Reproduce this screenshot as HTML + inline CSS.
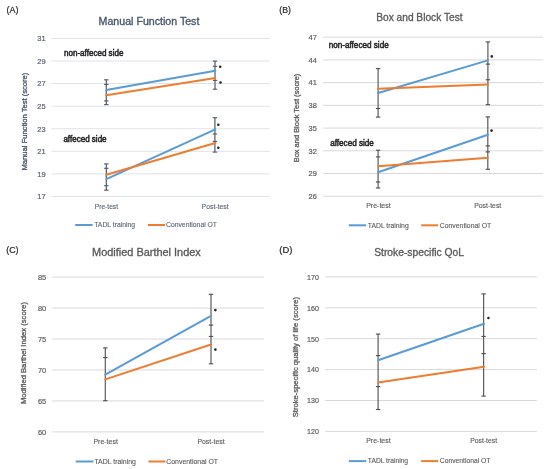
<!DOCTYPE html>
<html><head><meta charset="utf-8"><style>
html,body{margin:0;padding:0;background:#fff;width:550px;height:469px;overflow:hidden}
svg{display:block;font-family:"Liberation Sans", sans-serif;filter:blur(0.3px)}
</style></head><body>
<svg width="550" height="469" viewBox="0 0 550 469">
<rect width="550" height="469" fill="#fff"/>
<text x="6.4" y="13.2" font-size="9.6" fill="#262626" text-anchor="start" font-weight="normal" textLength="12" lengthAdjust="spacingAndGlyphs"  stroke="#262626" stroke-width="0.22">(A)</text>
<text x="98.6" y="24.6" font-size="10.0" fill="#44546a" text-anchor="start" font-weight="normal" textLength="100.8" lengthAdjust="spacingAndGlyphs"  stroke="#44546a" stroke-width="0.3">Manual Function Test</text>
<line x1="51.4" y1="38.4" x2="269.7" y2="38.4" stroke="#dfe3e9" stroke-width="1"/>
<text x="45.6" y="41.2" font-size="7.8" fill="#5a6475" text-anchor="end" font-weight="normal" textLength="8.3" lengthAdjust="spacingAndGlyphs"  stroke="#5a6475" stroke-width="0.2">31</text>
<line x1="51.4" y1="60.99" x2="269.7" y2="60.99" stroke="#dfe3e9" stroke-width="1"/>
<text x="45.6" y="63.79" font-size="7.8" fill="#5a6475" text-anchor="end" font-weight="normal" textLength="8.3" lengthAdjust="spacingAndGlyphs"  stroke="#5a6475" stroke-width="0.2">29</text>
<line x1="51.4" y1="83.57" x2="269.7" y2="83.57" stroke="#dfe3e9" stroke-width="1"/>
<text x="45.6" y="86.37" font-size="7.8" fill="#5a6475" text-anchor="end" font-weight="normal" textLength="8.3" lengthAdjust="spacingAndGlyphs"  stroke="#5a6475" stroke-width="0.2">27</text>
<line x1="51.4" y1="106.16" x2="269.7" y2="106.16" stroke="#dfe3e9" stroke-width="1"/>
<text x="45.6" y="108.96" font-size="7.8" fill="#5a6475" text-anchor="end" font-weight="normal" textLength="8.3" lengthAdjust="spacingAndGlyphs"  stroke="#5a6475" stroke-width="0.2">25</text>
<line x1="51.4" y1="128.74" x2="269.7" y2="128.74" stroke="#dfe3e9" stroke-width="1"/>
<text x="45.6" y="131.54" font-size="7.8" fill="#5a6475" text-anchor="end" font-weight="normal" textLength="8.3" lengthAdjust="spacingAndGlyphs"  stroke="#5a6475" stroke-width="0.2">23</text>
<line x1="51.4" y1="151.33" x2="269.7" y2="151.33" stroke="#dfe3e9" stroke-width="1"/>
<text x="45.6" y="154.13" font-size="7.8" fill="#5a6475" text-anchor="end" font-weight="normal" textLength="8.3" lengthAdjust="spacingAndGlyphs"  stroke="#5a6475" stroke-width="0.2">21</text>
<line x1="51.4" y1="173.91" x2="269.7" y2="173.91" stroke="#dfe3e9" stroke-width="1"/>
<text x="45.6" y="176.71" font-size="7.8" fill="#5a6475" text-anchor="end" font-weight="normal" textLength="8.3" lengthAdjust="spacingAndGlyphs"  stroke="#5a6475" stroke-width="0.2">19</text>
<line x1="51.4" y1="196.5" x2="269.7" y2="196.5" stroke="#dfe3e9" stroke-width="1"/>
<text x="45.6" y="199.3" font-size="7.8" fill="#5a6475" text-anchor="end" font-weight="normal" textLength="8.3" lengthAdjust="spacingAndGlyphs"  stroke="#5a6475" stroke-width="0.2">17</text>
<text transform="translate(27.1,121.6) rotate(-90)" x="0" y="0" font-size="7.6" fill="#44546a" stroke="#44546a" stroke-width="0.3" text-anchor="middle" textLength="97.9" lengthAdjust="spacingAndGlyphs">Manual Function Test (score)</text>
<text x="94.8" y="208.7" font-size="7.1" fill="#5a6475" text-anchor="start" font-weight="normal" textLength="23.2" lengthAdjust="spacingAndGlyphs"  stroke="#5a6475" stroke-width="0.12">Pre-test</text>
<text x="201.6" y="208.7" font-size="7.1" fill="#5a6475" text-anchor="start" font-weight="normal" textLength="27" lengthAdjust="spacingAndGlyphs"  stroke="#5a6475" stroke-width="0.12">Post-test</text>
<text x="64" y="55.7" font-size="8.4" fill="#262626" text-anchor="start" font-weight="normal" textLength="59.4" lengthAdjust="spacingAndGlyphs"  stroke="#262626" stroke-width="0.52">non-affeced side</text>
<text x="63.4" y="141.7" font-size="8.4" fill="#262626" text-anchor="start" font-weight="normal" textLength="43.2" lengthAdjust="spacingAndGlyphs"  stroke="#262626" stroke-width="0.52">affeced side</text>
<line x1="106.3" y1="79.8" x2="106.3" y2="104.6" stroke="#505a69" stroke-width="1.2"/>
<line x1="104.1" y1="79.8" x2="108.5" y2="79.8" stroke="#505a69" stroke-width="1.1"/>
<line x1="104.1" y1="84.4" x2="108.5" y2="84.4" stroke="#505a69" stroke-width="1.1"/>
<line x1="104.1" y1="100.9" x2="108.5" y2="100.9" stroke="#505a69" stroke-width="1.1"/>
<line x1="104.1" y1="104.6" x2="108.5" y2="104.6" stroke="#505a69" stroke-width="1.1"/>
<line x1="215.0" y1="61.1" x2="215.0" y2="89.2" stroke="#505a69" stroke-width="1.2"/>
<line x1="212.8" y1="61.1" x2="217.2" y2="61.1" stroke="#505a69" stroke-width="1.1"/>
<line x1="212.8" y1="66.3" x2="217.2" y2="66.3" stroke="#505a69" stroke-width="1.1"/>
<line x1="212.8" y1="80.4" x2="217.2" y2="80.4" stroke="#505a69" stroke-width="1.1"/>
<line x1="212.8" y1="89.2" x2="217.2" y2="89.2" stroke="#505a69" stroke-width="1.1"/>
<line x1="106.3" y1="163.9" x2="106.3" y2="190.2" stroke="#505a69" stroke-width="1.2"/>
<line x1="104.1" y1="163.9" x2="108.5" y2="163.9" stroke="#505a69" stroke-width="1.1"/>
<line x1="104.1" y1="168.3" x2="108.5" y2="168.3" stroke="#505a69" stroke-width="1.1"/>
<line x1="104.1" y1="185.7" x2="108.5" y2="185.7" stroke="#505a69" stroke-width="1.1"/>
<line x1="104.1" y1="190.2" x2="108.5" y2="190.2" stroke="#505a69" stroke-width="1.1"/>
<line x1="214.9" y1="117.7" x2="214.9" y2="152.1" stroke="#505a69" stroke-width="1.2"/>
<line x1="212.7" y1="117.7" x2="217.1" y2="117.7" stroke="#505a69" stroke-width="1.1"/>
<line x1="212.7" y1="134" x2="217.1" y2="134" stroke="#505a69" stroke-width="1.1"/>
<line x1="212.7" y1="141.4" x2="217.1" y2="141.4" stroke="#505a69" stroke-width="1.1"/>
<line x1="212.7" y1="152.1" x2="217.1" y2="152.1" stroke="#505a69" stroke-width="1.1"/>
<line x1="106.3" y1="90" x2="215.3" y2="70.8" stroke="#5b9bd5" stroke-width="2" stroke-linecap="round"/>
<line x1="106.3" y1="95.3" x2="215.3" y2="77.9" stroke="#ed7d31" stroke-width="2" stroke-linecap="round"/>
<line x1="106.3" y1="179.2" x2="215.3" y2="129.4" stroke="#5b9bd5" stroke-width="2" stroke-linecap="round"/>
<line x1="106.3" y1="174.7" x2="215.3" y2="143" stroke="#ed7d31" stroke-width="2" stroke-linecap="round"/>
<circle cx="220.2" cy="66.8" r="1.3" fill="#262626"/>
<circle cx="220.5" cy="82.5" r="1.3" fill="#262626"/>
<circle cx="218.3" cy="124.7" r="1.3" fill="#262626"/>
<circle cx="218.3" cy="147.8" r="1.3" fill="#262626"/>
<line x1="75.2" y1="225" x2="92.6" y2="225" stroke="#5b9bd5" stroke-width="2"/>
<line x1="148" y1="225" x2="165" y2="225" stroke="#ed7d31" stroke-width="2"/>
<text x="94.2" y="226.9" font-size="7.9" fill="#5a6475" text-anchor="start" font-weight="normal" textLength="40.9" lengthAdjust="spacingAndGlyphs"  stroke="#5a6475" stroke-width="0.12">TADL training</text>
<text x="166" y="226.9" font-size="7.9" fill="#5a6475" text-anchor="start" font-weight="normal" textLength="51" lengthAdjust="spacingAndGlyphs"  stroke="#5a6475" stroke-width="0.12">Conventional OT</text>
<text x="279.3" y="13.2" font-size="9.6" fill="#262626" text-anchor="start" font-weight="normal" textLength="11.6" lengthAdjust="spacingAndGlyphs"  stroke="#262626" stroke-width="0.22">(B)</text>
<text x="376.2" y="20.6" font-size="10.0" fill="#595959" text-anchor="start" font-weight="normal" textLength="86.4" lengthAdjust="spacingAndGlyphs"  stroke="#595959" stroke-width="0.3">Box and Block Test</text>
<line x1="323.2" y1="37.2" x2="543" y2="37.2" stroke="#d9d9d9" stroke-width="1"/>
<text x="316.8" y="40.0" font-size="7.8" fill="#5e5e5e" text-anchor="end" font-weight="normal" textLength="8.3" lengthAdjust="spacingAndGlyphs"  stroke="#5e5e5e" stroke-width="0.2">47</text>
<line x1="323.2" y1="59.91" x2="543" y2="59.91" stroke="#d9d9d9" stroke-width="1"/>
<text x="316.8" y="62.71" font-size="7.8" fill="#5e5e5e" text-anchor="end" font-weight="normal" textLength="8.3" lengthAdjust="spacingAndGlyphs"  stroke="#5e5e5e" stroke-width="0.2">44</text>
<line x1="323.2" y1="82.63" x2="543" y2="82.63" stroke="#d9d9d9" stroke-width="1"/>
<text x="316.8" y="85.43" font-size="7.8" fill="#5e5e5e" text-anchor="end" font-weight="normal" textLength="8.3" lengthAdjust="spacingAndGlyphs"  stroke="#5e5e5e" stroke-width="0.2">41</text>
<line x1="323.2" y1="105.34" x2="543" y2="105.34" stroke="#d9d9d9" stroke-width="1"/>
<text x="316.8" y="108.14" font-size="7.8" fill="#5e5e5e" text-anchor="end" font-weight="normal" textLength="8.3" lengthAdjust="spacingAndGlyphs"  stroke="#5e5e5e" stroke-width="0.2">38</text>
<line x1="323.2" y1="128.06" x2="543" y2="128.06" stroke="#d9d9d9" stroke-width="1"/>
<text x="316.8" y="130.86" font-size="7.8" fill="#5e5e5e" text-anchor="end" font-weight="normal" textLength="8.3" lengthAdjust="spacingAndGlyphs"  stroke="#5e5e5e" stroke-width="0.2">35</text>
<line x1="323.2" y1="150.77" x2="543" y2="150.77" stroke="#d9d9d9" stroke-width="1"/>
<text x="316.8" y="153.57" font-size="7.8" fill="#5e5e5e" text-anchor="end" font-weight="normal" textLength="8.3" lengthAdjust="spacingAndGlyphs"  stroke="#5e5e5e" stroke-width="0.2">32</text>
<line x1="323.2" y1="173.49" x2="543" y2="173.49" stroke="#d9d9d9" stroke-width="1"/>
<text x="316.8" y="176.29" font-size="7.8" fill="#5e5e5e" text-anchor="end" font-weight="normal" textLength="8.3" lengthAdjust="spacingAndGlyphs"  stroke="#5e5e5e" stroke-width="0.2">29</text>
<line x1="323.2" y1="196.2" x2="543" y2="196.2" stroke="#d9d9d9" stroke-width="1"/>
<text x="316.8" y="199.0" font-size="7.8" fill="#5e5e5e" text-anchor="end" font-weight="normal" textLength="8.3" lengthAdjust="spacingAndGlyphs"  stroke="#5e5e5e" stroke-width="0.2">26</text>
<text transform="translate(298.5,118) rotate(-90)" x="0" y="0" font-size="7.6" fill="#595959" stroke="#595959" stroke-width="0.3" text-anchor="middle" textLength="88.7" lengthAdjust="spacingAndGlyphs">Box and Block Test (socre)</text>
<text x="366.2" y="208.2" font-size="7.1" fill="#595959" text-anchor="start" font-weight="normal" textLength="24.5" lengthAdjust="spacingAndGlyphs"  stroke="#595959" stroke-width="0.12">Pre-test</text>
<text x="474.2" y="208.2" font-size="7.1" fill="#595959" text-anchor="start" font-weight="normal" textLength="27.1" lengthAdjust="spacingAndGlyphs"  stroke="#595959" stroke-width="0.12">Post-test</text>
<text x="328.7" y="47.8" font-size="8.4" fill="#262626" text-anchor="start" font-weight="normal" textLength="60" lengthAdjust="spacingAndGlyphs"  stroke="#262626" stroke-width="0.52">non-affeced side</text>
<text x="330.2" y="146.3" font-size="8.4" fill="#262626" text-anchor="start" font-weight="normal" textLength="43.6" lengthAdjust="spacingAndGlyphs"  stroke="#262626" stroke-width="0.52">affeced side</text>
<line x1="378.1" y1="68.6" x2="378.1" y2="117.1" stroke="#5c5c5c" stroke-width="1.2"/>
<line x1="375.9" y1="68.6" x2="380.3" y2="68.6" stroke="#4a4a4a" stroke-width="1.1"/>
<line x1="375.9" y1="108.5" x2="380.3" y2="108.5" stroke="#4a4a4a" stroke-width="1.1"/>
<line x1="375.9" y1="117.1" x2="380.3" y2="117.1" stroke="#4a4a4a" stroke-width="1.1"/>
<line x1="487.9" y1="41.9" x2="487.9" y2="104.7" stroke="#5c5c5c" stroke-width="1.2"/>
<line x1="485.7" y1="41.9" x2="490.1" y2="41.9" stroke="#4a4a4a" stroke-width="1.1"/>
<line x1="485.7" y1="64.1" x2="490.1" y2="64.1" stroke="#4a4a4a" stroke-width="1.1"/>
<line x1="485.7" y1="79.8" x2="490.1" y2="79.8" stroke="#4a4a4a" stroke-width="1.1"/>
<line x1="485.7" y1="104.7" x2="490.1" y2="104.7" stroke="#4a4a4a" stroke-width="1.1"/>
<line x1="378.1" y1="150.2" x2="378.1" y2="188" stroke="#5c5c5c" stroke-width="1.2"/>
<line x1="375.9" y1="150.2" x2="380.3" y2="150.2" stroke="#4a4a4a" stroke-width="1.1"/>
<line x1="375.9" y1="156.9" x2="380.3" y2="156.9" stroke="#4a4a4a" stroke-width="1.1"/>
<line x1="375.9" y1="182" x2="380.3" y2="182" stroke="#4a4a4a" stroke-width="1.1"/>
<line x1="375.9" y1="188" x2="380.3" y2="188" stroke="#4a4a4a" stroke-width="1.1"/>
<line x1="487.8" y1="116.9" x2="487.8" y2="169.3" stroke="#5c5c5c" stroke-width="1.2"/>
<line x1="485.6" y1="116.9" x2="490.0" y2="116.9" stroke="#4a4a4a" stroke-width="1.1"/>
<line x1="485.6" y1="145.9" x2="490.0" y2="145.9" stroke="#4a4a4a" stroke-width="1.1"/>
<line x1="485.6" y1="151.9" x2="490.0" y2="151.9" stroke="#4a4a4a" stroke-width="1.1"/>
<line x1="485.6" y1="169.3" x2="490.0" y2="169.3" stroke="#4a4a4a" stroke-width="1.1"/>
<line x1="378.1" y1="93" x2="487.9" y2="60.4" stroke="#5b9bd5" stroke-width="2" stroke-linecap="round"/>
<line x1="378.1" y1="88.7" x2="487.9" y2="84.6" stroke="#ed7d31" stroke-width="2" stroke-linecap="round"/>
<line x1="378.1" y1="172.2" x2="487.9" y2="134.8" stroke="#5b9bd5" stroke-width="2" stroke-linecap="round"/>
<line x1="378.1" y1="166.2" x2="487.9" y2="157.8" stroke="#ed7d31" stroke-width="2" stroke-linecap="round"/>
<circle cx="491.8" cy="56.4" r="1.3" fill="#262626"/>
<circle cx="491.5" cy="130.6" r="1.3" fill="#262626"/>
<line x1="348.8" y1="225.3" x2="366.2" y2="225.3" stroke="#5b9bd5" stroke-width="2"/>
<line x1="421.2" y1="225.3" x2="438.2" y2="225.3" stroke="#ed7d31" stroke-width="2"/>
<text x="367.8" y="227.5" font-size="7.9" fill="#595959" text-anchor="start" font-weight="normal" textLength="40.9" lengthAdjust="spacingAndGlyphs"  stroke="#595959" stroke-width="0.12">TADL training</text>
<text x="439.8" y="227.5" font-size="7.9" fill="#595959" text-anchor="start" font-weight="normal" textLength="51.4" lengthAdjust="spacingAndGlyphs"  stroke="#595959" stroke-width="0.12">Conventional OT</text>
<text x="6.2" y="253.3" font-size="9.6" fill="#262626" text-anchor="start" font-weight="normal" textLength="12.3" lengthAdjust="spacingAndGlyphs"  stroke="#262626" stroke-width="0.22">(C)</text>
<text x="92.1" y="256.2" font-size="10.0" fill="#595959" text-anchor="start" font-weight="normal" textLength="108.7" lengthAdjust="spacingAndGlyphs"  stroke="#595959" stroke-width="0.3">Modified Barthel Index</text>
<line x1="52.2" y1="277.1" x2="264.1" y2="277.1" stroke="#d9d9d9" stroke-width="1"/>
<text x="46.2" y="279.9" font-size="7.8" fill="#5e5e5e" text-anchor="end" font-weight="normal" textLength="8.3" lengthAdjust="spacingAndGlyphs"  stroke="#5e5e5e" stroke-width="0.2">85</text>
<line x1="52.2" y1="308.06" x2="264.1" y2="308.06" stroke="#d9d9d9" stroke-width="1"/>
<text x="46.2" y="310.86" font-size="7.8" fill="#5e5e5e" text-anchor="end" font-weight="normal" textLength="8.3" lengthAdjust="spacingAndGlyphs"  stroke="#5e5e5e" stroke-width="0.2">80</text>
<line x1="52.2" y1="339.02" x2="264.1" y2="339.02" stroke="#d9d9d9" stroke-width="1"/>
<text x="46.2" y="341.82" font-size="7.8" fill="#5e5e5e" text-anchor="end" font-weight="normal" textLength="8.3" lengthAdjust="spacingAndGlyphs"  stroke="#5e5e5e" stroke-width="0.2">75</text>
<line x1="52.2" y1="369.98" x2="264.1" y2="369.98" stroke="#d9d9d9" stroke-width="1"/>
<text x="46.2" y="372.78" font-size="7.8" fill="#5e5e5e" text-anchor="end" font-weight="normal" textLength="8.3" lengthAdjust="spacingAndGlyphs"  stroke="#5e5e5e" stroke-width="0.2">70</text>
<line x1="52.2" y1="400.94" x2="264.1" y2="400.94" stroke="#d9d9d9" stroke-width="1"/>
<text x="46.2" y="403.74" font-size="7.8" fill="#5e5e5e" text-anchor="end" font-weight="normal" textLength="8.3" lengthAdjust="spacingAndGlyphs"  stroke="#5e5e5e" stroke-width="0.2">65</text>
<line x1="52.2" y1="431.9" x2="264.1" y2="431.9" stroke="#d9d9d9" stroke-width="1"/>
<text x="46.2" y="434.7" font-size="7.8" fill="#5e5e5e" text-anchor="end" font-weight="normal" textLength="8.3" lengthAdjust="spacingAndGlyphs"  stroke="#5e5e5e" stroke-width="0.2">60</text>
<text transform="translate(26.0,353) rotate(-90)" x="0" y="0" font-size="7.9" fill="#595959" stroke="#595959" stroke-width="0.3" text-anchor="middle" textLength="102" lengthAdjust="spacingAndGlyphs">Modified Barthel Index (score)</text>
<text x="93.4" y="444.1" font-size="7.1" fill="#595959" text-anchor="start" font-weight="normal" textLength="24.5" lengthAdjust="spacingAndGlyphs"  stroke="#595959" stroke-width="0.12">Pre-test</text>
<text x="197.4" y="444.1" font-size="7.1" fill="#595959" text-anchor="start" font-weight="normal" textLength="27.2" lengthAdjust="spacingAndGlyphs"  stroke="#595959" stroke-width="0.12">Post-test</text>
<line x1="105.3" y1="347.9" x2="105.3" y2="400.7" stroke="#5c5c5c" stroke-width="1.2"/>
<line x1="103.1" y1="347.9" x2="107.5" y2="347.9" stroke="#4a4a4a" stroke-width="1.1"/>
<line x1="103.1" y1="357.6" x2="107.5" y2="357.6" stroke="#4a4a4a" stroke-width="1.1"/>
<line x1="103.1" y1="400.7" x2="107.5" y2="400.7" stroke="#4a4a4a" stroke-width="1.1"/>
<line x1="211" y1="294.3" x2="211" y2="363.8" stroke="#5c5c5c" stroke-width="1.2"/>
<line x1="208.8" y1="294.3" x2="213.2" y2="294.3" stroke="#4a4a4a" stroke-width="1.1"/>
<line x1="208.8" y1="325.1" x2="213.2" y2="325.1" stroke="#4a4a4a" stroke-width="1.1"/>
<line x1="208.8" y1="336.4" x2="213.2" y2="336.4" stroke="#4a4a4a" stroke-width="1.1"/>
<line x1="208.8" y1="363.8" x2="213.2" y2="363.8" stroke="#4a4a4a" stroke-width="1.1"/>
<line x1="105.3" y1="374.7" x2="211" y2="315.8" stroke="#5b9bd5" stroke-width="2" stroke-linecap="round"/>
<line x1="105.3" y1="379.4" x2="211" y2="344.5" stroke="#ed7d31" stroke-width="2" stroke-linecap="round"/>
<circle cx="215.4" cy="310.1" r="1.3" fill="#262626"/>
<circle cx="215.4" cy="349.6" r="1.3" fill="#262626"/>
<line x1="75.7" y1="461.5" x2="93.4" y2="461.5" stroke="#5b9bd5" stroke-width="2"/>
<line x1="148.4" y1="461.5" x2="165.4" y2="461.5" stroke="#ed7d31" stroke-width="2"/>
<text x="94.4" y="463.9" font-size="7.9" fill="#595959" text-anchor="start" font-weight="normal" textLength="41.5" lengthAdjust="spacingAndGlyphs"  stroke="#595959" stroke-width="0.12">TADL training</text>
<text x="166.3" y="463.9" font-size="7.9" fill="#595959" text-anchor="start" font-weight="normal" textLength="51.7" lengthAdjust="spacingAndGlyphs"  stroke="#595959" stroke-width="0.12">Conventional OT</text>
<text x="279.3" y="253.3" font-size="9.6" fill="#262626" text-anchor="start" font-weight="normal" textLength="13.1" lengthAdjust="spacingAndGlyphs"  stroke="#262626" stroke-width="0.22">(D)</text>
<text x="374.2" y="256.2" font-size="10.0" fill="#595959" text-anchor="start" font-weight="normal" textLength="89.8" lengthAdjust="spacingAndGlyphs"  stroke="#595959" stroke-width="0.3">Stroke-specific QoL</text>
<line x1="325.1" y1="276.9" x2="537" y2="276.9" stroke="#d9d9d9" stroke-width="1"/>
<text x="318.9" y="279.7" font-size="7.8" fill="#5e5e5e" text-anchor="end" font-weight="normal" textLength="11.85" lengthAdjust="spacingAndGlyphs"  stroke="#5e5e5e" stroke-width="0.2">170</text>
<line x1="325.1" y1="307.8" x2="537" y2="307.8" stroke="#d9d9d9" stroke-width="1"/>
<text x="318.9" y="310.6" font-size="7.8" fill="#5e5e5e" text-anchor="end" font-weight="normal" textLength="11.85" lengthAdjust="spacingAndGlyphs"  stroke="#5e5e5e" stroke-width="0.2">160</text>
<line x1="325.1" y1="338.7" x2="537" y2="338.7" stroke="#d9d9d9" stroke-width="1"/>
<text x="318.9" y="341.5" font-size="7.8" fill="#5e5e5e" text-anchor="end" font-weight="normal" textLength="11.85" lengthAdjust="spacingAndGlyphs"  stroke="#5e5e5e" stroke-width="0.2">150</text>
<line x1="325.1" y1="369.6" x2="537" y2="369.6" stroke="#d9d9d9" stroke-width="1"/>
<text x="318.9" y="372.4" font-size="7.8" fill="#5e5e5e" text-anchor="end" font-weight="normal" textLength="11.85" lengthAdjust="spacingAndGlyphs"  stroke="#5e5e5e" stroke-width="0.2">140</text>
<line x1="325.1" y1="400.5" x2="537" y2="400.5" stroke="#d9d9d9" stroke-width="1"/>
<text x="318.9" y="403.3" font-size="7.8" fill="#5e5e5e" text-anchor="end" font-weight="normal" textLength="11.85" lengthAdjust="spacingAndGlyphs"  stroke="#5e5e5e" stroke-width="0.2">130</text>
<line x1="325.1" y1="431.4" x2="537" y2="431.4" stroke="#d9d9d9" stroke-width="1"/>
<text x="318.9" y="434.2" font-size="7.8" fill="#5e5e5e" text-anchor="end" font-weight="normal" textLength="11.85" lengthAdjust="spacingAndGlyphs"  stroke="#5e5e5e" stroke-width="0.2">120</text>
<text transform="translate(298.0,357.1) rotate(-90)" x="0" y="0" font-size="7.9" fill="#595959" stroke="#595959" stroke-width="0.3" text-anchor="middle" textLength="120.3" lengthAdjust="spacingAndGlyphs">Stroke-specific quality of life (score)</text>
<text x="366.2" y="443.0" font-size="7.1" fill="#595959" text-anchor="start" font-weight="normal" textLength="24.5" lengthAdjust="spacingAndGlyphs"  stroke="#595959" stroke-width="0.12">Pre-test</text>
<text x="470.2" y="443.0" font-size="7.1" fill="#595959" text-anchor="start" font-weight="normal" textLength="26.9" lengthAdjust="spacingAndGlyphs"  stroke="#595959" stroke-width="0.12">Post-test</text>
<line x1="378.1" y1="334.1" x2="378.1" y2="409.5" stroke="#5c5c5c" stroke-width="1.2"/>
<line x1="375.9" y1="334.1" x2="380.3" y2="334.1" stroke="#4a4a4a" stroke-width="1.1"/>
<line x1="375.9" y1="355.6" x2="380.3" y2="355.6" stroke="#4a4a4a" stroke-width="1.1"/>
<line x1="375.9" y1="386.6" x2="380.3" y2="386.6" stroke="#4a4a4a" stroke-width="1.1"/>
<line x1="375.9" y1="409.5" x2="380.3" y2="409.5" stroke="#4a4a4a" stroke-width="1.1"/>
<line x1="483.6" y1="293.9" x2="483.6" y2="396.1" stroke="#5c5c5c" stroke-width="1.2"/>
<line x1="481.4" y1="293.9" x2="485.8" y2="293.9" stroke="#4a4a4a" stroke-width="1.1"/>
<line x1="481.4" y1="336.4" x2="485.8" y2="336.4" stroke="#4a4a4a" stroke-width="1.1"/>
<line x1="481.4" y1="353.6" x2="485.8" y2="353.6" stroke="#4a4a4a" stroke-width="1.1"/>
<line x1="481.4" y1="396.1" x2="485.8" y2="396.1" stroke="#4a4a4a" stroke-width="1.1"/>
<line x1="378.1" y1="360.2" x2="484" y2="323.7" stroke="#5b9bd5" stroke-width="2" stroke-linecap="round"/>
<line x1="378.1" y1="382.4" x2="484" y2="366.7" stroke="#ed7d31" stroke-width="2" stroke-linecap="round"/>
<circle cx="488.4" cy="318" r="1.3" fill="#262626"/>
<line x1="348.8" y1="461.1" x2="366.2" y2="461.1" stroke="#5b9bd5" stroke-width="2"/>
<line x1="421.2" y1="461.1" x2="438.2" y2="461.1" stroke="#ed7d31" stroke-width="2"/>
<text x="367.8" y="463.1" font-size="7.9" fill="#595959" text-anchor="start" font-weight="normal" textLength="40.3" lengthAdjust="spacingAndGlyphs"  stroke="#595959" stroke-width="0.12">TADL training</text>
<text x="439.8" y="463.1" font-size="7.9" fill="#595959" text-anchor="start" font-weight="normal" textLength="50.7" lengthAdjust="spacingAndGlyphs"  stroke="#595959" stroke-width="0.12">Conventional OT</text>
</svg></body></html>
